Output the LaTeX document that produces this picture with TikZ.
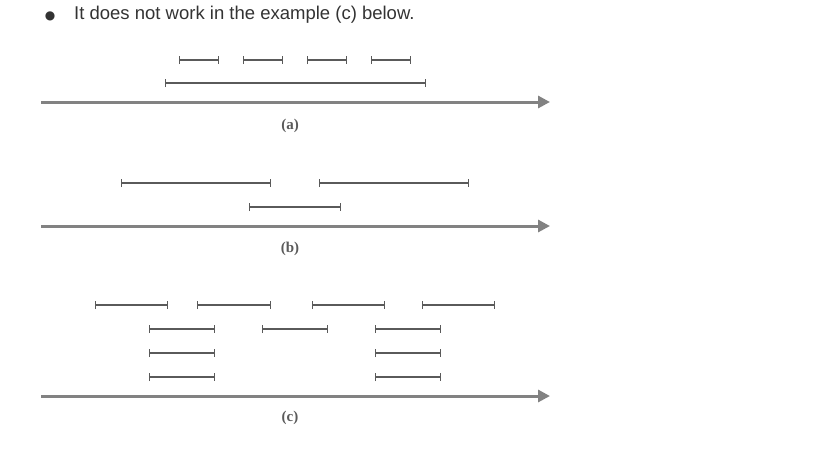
\documentclass[tikz,border=0pt]{standalone}
\usepackage{fontspec}
\setmainfont{Liberation Sans}
\newfontfamily\serifb{Liberation Serif}
\newfontfamily\dejavu{DejaVu Sans}
\usetikzlibrary{arrows.meta}
\definecolor{ln}{RGB}{90,90,90}
\definecolor{ax}{RGB}{130,130,130}
\tikzset{iv/.style={draw=ln,line width=1.2pt,{Bar[width=8pt]}-{Bar[width=8pt]}},
  axis/.style={draw=ax,line width=3pt,-{Triangle[length=12pt,width=12pt]}},
  lab/.style={font=\serifb\bfseries\fontsize{15}{17}\selectfont,text=ln}}
\begin{document}
\begin{tikzpicture}[x=1pt,y=-1pt]
\useasboundingbox (0,0) rectangle (825,464);
\node[anchor=center,text=black!80,font=\dejavu\fontsize{12}{14}\selectfont] (bul) at (50,16) {●};
\node[anchor=west,text=black!80,font=\fontsize{18.5}{20}\selectfont,inner sep=0pt] (t) at (74,15) {It does not work in the example (c) below.};
% (a)
\foreach \a/\b in {179/219,243/283,307/347,371/411} \draw[iv] (\a,60) -- (\b,60);
\draw[iv] (165,83) -- (426,83);
\draw[axis] (41,102) -- (550,102);
\node[lab] (la) at (290,126) {(a)};
% (b)
\draw[iv] (121,183) -- (271,183);
\draw[iv] (319,183) -- (469,183);
\draw[iv] (249,207) -- (341,207);
\draw[axis] (41,226) -- (550,226);
\node[lab] (lb) at (290,249) {(b)};
% (c)
\foreach \a/\b in {95/168,197/271,312/385,422/495} \draw[iv] (\a,305) -- (\b,305);
\foreach \a/\b in {149/215,262/328,375/441} \draw[iv] (\a,329) -- (\b,329);
\foreach \y in {353,377} {\draw[iv] (149,\y) -- (215,\y); \draw[iv] (375,\y) -- (441,\y);}
\draw[axis] (41,396) -- (550,396);
\node[lab] (lc) at (290,418) {(c)};
\end{tikzpicture}
\end{document}
